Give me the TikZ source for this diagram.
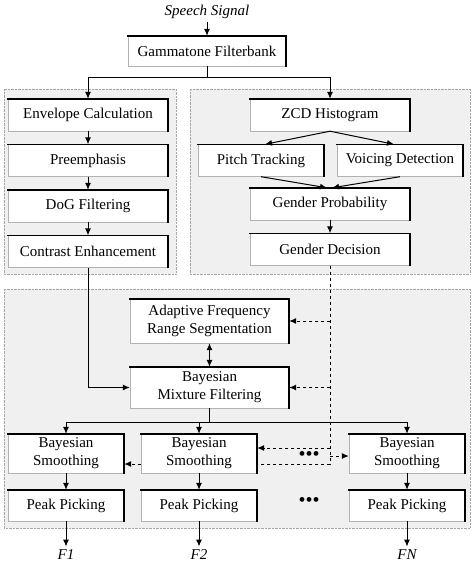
\documentclass[tikz,border=0pt]{standalone}
\usepackage{fontspec}
\setmainfont{Liberation Serif}
\usetikzlibrary{arrows, arrows.meta}
\tikzstyle{rim} = [draw=black, line width=1.5pt, line cap=rect]
\tikzstyle{block} = [rectangle,
draw=gray!60,
fill=white,
inner sep=0pt,
text centered,
align=center,
minimum width=160pt,
minimum height=32pt,
append after command={\pgfextra{\let\mainnode=\tikzlastnode}
(\mainnode.north west) edge[rim] (\mainnode.north east)
(\mainnode.north east) edge[rim] (\mainnode.south east)}]
\tikzstyle{panel} = [draw=gray!70, densely dotted, fill=gray!12]
\tikzstyle{sigtext} = [font=\fontsize{15}{18}\selectfont\itshape]
\tikzstyle{arrow} = [line width=1pt,->,>={Latex[length=7pt,width=6pt]}]
\tikzstyle{dasharrow} = [line width=1pt,dashed,->,>={Latex[length=7pt,width=6pt]}]

\begin{document}
\begin{tikzpicture}[x=1pt, y=-1pt, node distance=45.5pt, font=\fontsize{15}{18}\selectfont]
\useasboundingbox (0,0) rectangle (474,565);

\draw [panel] (4,89) rectangle (176,274);
\draw [panel] (190,89) rectangle (470,274);
\draw [panel] (4,289) rectangle (470,528);

\node (sig) [sigtext] at (207,12) {Speech Signal};
\node (gam) [block, minimum width=158pt, minimum height=30pt] at (207,51) {Gammatone Filterbank};

\node (env) [block] at (88,115) {Envelope Calculation};
\node (pre) [block, below of=env] {Preemphasis};
\node (dog) [block, below of=pre] {DoG Filtering};
\node (con) [block, below of=dog] {Contrast Enhancement};

\node (zcd) [block] at (330,115) {ZCD Histogram};
\node (pit) [block, minimum width=126pt] at (261,160.5) {Pitch Tracking};
\node (voi) [block, minimum width=126pt] at (400,160.5) {Voicing Detection};
\node (gp) [block] at (330,204) {Gender Probability};
\node (gd) [block, below of=gp] {Gender Decision};

\node (afr) [block, minimum width=159pt, minimum height=44pt] at (209.5,321) {Adaptive Frequency\\Range Segmentation};
\node (bmf) [block, minimum width=159pt, minimum height=41pt] at (209.5,387.5) {Bayesian\\Mixture Filtering};

\node (bs1) [block, minimum width=116pt, minimum height=39pt] at (66,453.5) {Bayesian\\Smoothing};
\node (bs2) [block, minimum width=116pt, minimum height=39pt] at (199,453.5) {Bayesian\\Smoothing};
\node (bsn) [block, minimum width=116pt, minimum height=39pt] at (407,453.5) {Bayesian\\Smoothing};
\node (pp1) [block, minimum width=116pt, minimum height=31pt, below of=bs1, yshift=-6.5pt] {Peak Picking};
\node (pp2) [block, minimum width=116pt, minimum height=31pt, below of=bs2, yshift=-6.5pt] {Peak Picking};
\node (ppn) [block, minimum width=116pt, minimum height=31pt, below of=bsn, yshift=-6.5pt] {Peak Picking};
\node (f1) [sigtext, below of=pp1, yshift=-4pt] {F1};
\node (f2) [sigtext, below of=pp2, yshift=-4pt] {F2};
\node (fn) [sigtext, below of=ppn, yshift=-4pt] {FN};

\node (dots1) [font=\fontsize{20}{20}\selectfont] at (309,456) {\textbullet\textbullet\textbullet};
\node (dots2) [font=\fontsize{20}{20}\selectfont] at (309,502) {\textbullet\textbullet\textbullet};

\coordinate (fork) at (207,77);
\coordinate (fan) at (209.5,422);
\coordinate (tap) at (330,464);
\coordinate (in2) at ([yshift=5.5pt]bs2.east);
\coordinate (inn) at ([yshift=-2.5pt]bsn.west);

\draw [arrow] (sig) -- (gam);
\draw [line width=1pt] (gam) -- (fork);
\draw [arrow] (fork) -| (env);
\draw [arrow] (fork) -| (zcd);
\draw [arrow] (env) -- (pre);
\draw [arrow] (pre) -- (dog);
\draw [arrow] (dog) -- (con);
\draw [arrow] (con) |- (bmf);

\draw [arrow] (zcd.south) -- ([xshift=4pt]pit.north);
\draw [arrow] (zcd.south) -- ([xshift=-6pt]voi.north);
\draw [arrow] (pit.south) -- ([xshift=-3pt]gp.north);
\draw [arrow] (voi.south) -- ([xshift=2pt]gp.north);
\draw [arrow] (gp) -- (gd);

\draw [arrow, <->] (afr) -- (bmf);
\draw [line width=1pt] (bmf) -- (fan);
\draw [arrow] (fan) -| (bs1);
\draw [arrow] (fan) -| (bs2);
\draw [arrow] (fan) -| (bsn);
\draw [arrow] (bs1) -- (pp1);
\draw [arrow] (bs2) -- (pp2);
\draw [arrow] (bsn) -- (ppn);
\draw [arrow] (pp1) -- (f1);
\draw [arrow] (pp2) -- (f2);
\draw [arrow] (ppn) -- (fn);

\draw [line width=1pt, dashed] (gd) -- (tap) -- (tap -| bs2.east);
\draw [dasharrow] (afr.east -| tap) -- (afr);
\draw [dasharrow] (bmf.east -| tap) -- (bmf);
\draw [dasharrow] (in2 -| tap) -- (in2);
\draw [dasharrow] (inn -| tap) -- (inn);
\draw [dasharrow] (tap -| bs2.west) -- (tap -| bs1.east);

\end{tikzpicture}
\end{document}
